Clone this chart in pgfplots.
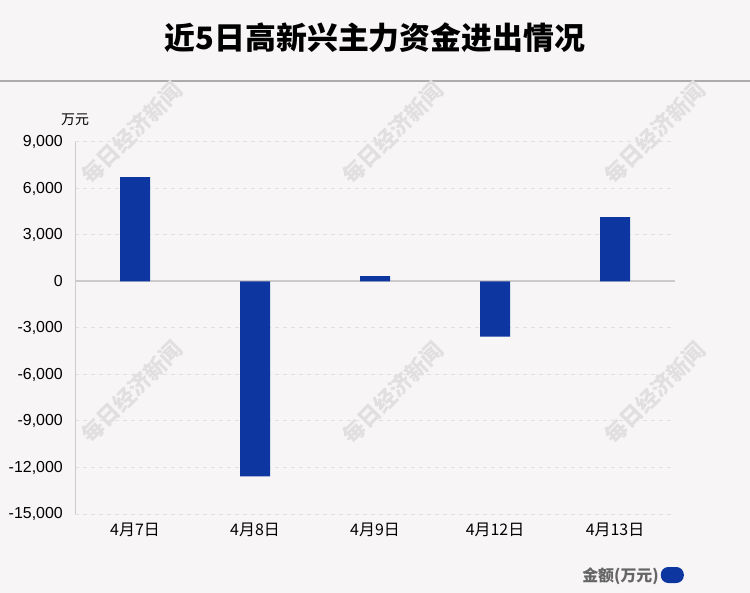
\documentclass[border=0pt]{standalone}
\usepackage{pgfplots}
\pgfplotsset{compat=1.18}
\usepackage{fontspec}
\setmainfont{Liberation Sans}
\newfontfamily\cjk{Noto Sans CJK SC}

\definecolor{bg}{HTML}{F8F5F6}
\definecolor{barblue}{HTML}{0E36A0}
\definecolor{gridc}{HTML}{E2DFE0}
\definecolor{zeroc}{HTML}{CCCACB}
\definecolor{wm}{HTML}{E2DFE0}

\begin{document}
\begin{tikzpicture}
    \path[use as bounding box] (0,0) rectangle (750bp,593bp);
    \fill[bg] (0,0) rectangle (750bp,593bp);

    % title and rule
    \node[font=\cjk\bfseries\fontsize{31}{34}\selectfont] at (375bp,555bp)
        {近5日高新兴主力资金进出情况};
    \draw[color=zeroc!85!black, line width=1.5bp] (0,512bp) -- (750bp,512bp);

    % watermarks
    \foreach \wx/\wy in {132/460, 393/460, 655/460, 132/201, 393/200, 655/200}
        \node[rotate=45, text=wm, font=\cjk\bfseries\fontsize{22}{22}\selectfont]
            at (\wx bp,\wy bp) {每日经济新闻};

    % unit label
    \node[font=\cjk\fontsize{14}{16}\selectfont] at (75bp,473bp) {万元};

    \begin{axis}[
        at={(75bp,79bp)}, anchor=south west,
        scale only axis,
        width=600bp, height=372bp,
        xmin=-0.5, xmax=4.5,
        ymin=-15000, ymax=9000,
        axis x line=bottom,
        axis y line=left,
        axis line style={-},
        x axis line style={draw=none},
        y axis line style={draw=zeroc, line width=1bp},
        scaled y ticks=false,
        ytick={-15000,-12000,-9000,-6000,-3000,0,3000,6000,9000},
        yticklabels={{-15,000},{-12,000},{-9,000},{-6,000},{-3,000},{0},{3,000},{6,000},{9,000}},
        yticklabel style={font=\fontsize{16}{18}\selectfont, anchor=east, inner sep=0pt, xshift=-12bp},
        xtick={0,1,2,3,4},
        xticklabels={4月7日,4月8日,4月9日,4月12日,4月13日},
        xticklabel style={font=\cjk\fontsize{16}{18}\selectfont, anchor=north, inner sep=0pt, yshift=-8.5bp},
        major tick length=0pt,
        ymajorgrids,
        grid style={draw=gridc, line width=1bp, dash pattern=on 4bp off 4bp},
        extra y ticks={0},
        extra y tick labels={},
        extra y tick style={grid style={draw=zeroc, line width=2bp, solid}},
        ybar,
        bar width=30bp,
        clip=false,
        legend plot pos=right,
        legend style={
            at={(1.015,-0.164)}, anchor=east,
            draw=none, fill=none, inner sep=0pt,
            font=\cjk\bfseries\fontsize{16}{18}\selectfont,
            text=black!60,
        },
        legend image code/.code={
            \fill[barblue, rounded corners=7.5bp] (0bp,-8bp) rectangle (23bp,8bp);
        },
    ]
        \addplot[fill=barblue, draw=none] coordinates {
            (0,6740) (1,-12570) (2,350) (3,-3560) (4,4160)
        };
        \addlegendentry{金额(万元)}
    \end{axis}
\end{tikzpicture}
\end{document}
